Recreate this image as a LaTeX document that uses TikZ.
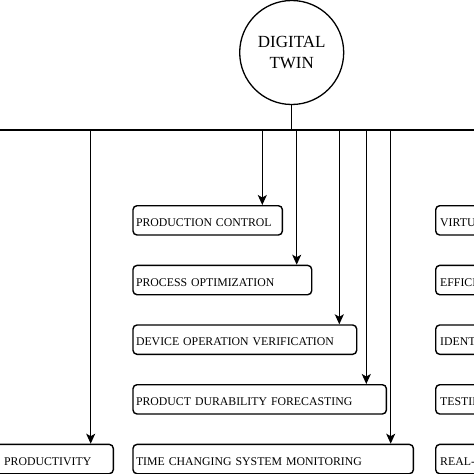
\documentclass[tikz,border=0pt]{standalone}
\usepackage{fontspec}
\setmainfont{Liberation Serif}
\usetikzlibrary{arrows.meta}
\begin{document}
\begin{tikzpicture}[x=1pt,y=-1pt,
  line width=1.2pt,
  arr/.style={-{Stealth[width=9pt,length=10pt,inset=2.5pt]}},
  box/.style={draw, line width=1.4pt, rounded corners=4pt, anchor=north west,
    minimum height=29.3pt, inner ysep=0pt, inner xsep=3pt,
    text height=12pt, text depth=0pt, align=left,
    font=\fontsize{11.8}{12}\selectfont},
  rbox/.style={box, inner xsep=4.5pt, text width=260pt}]
\useasboundingbox (0,0) rectangle (474,474);
\clip (0,0) rectangle (474,474);

\node[circle, draw, line width=1.3pt, minimum size=104pt, inner sep=0pt,
  align=center, font=\fontsize{17}{21.7}\selectfont] (dt) at (291.7,52.5) {DIGITAL\\TWIN};

% middle column
\node[box, text width=143.4pt] (pc)   at (132.3,205)   {PRODUCTION CONTROL};
\node[box, text width=172.7pt] (po)   at (132.3,264.7) {PROCESS OPTIMIZATION};
\node[box, text width=217.7pt] (dov)  at (132.3,324.3) {DEVICE OPERATION VERIFICATION};
\node[box, text width=247.4pt] (pdf)  at (132.3,384)   {PRODUCT DURABILITY FORECASTING};
\node[box, text width=274.4pt] (tcsm) at (132.3,443.7) {TIME CHANGING SYSTEM MONITORING};

% left box (cut off)
\node[box, anchor=north east, inner xsep=22pt, text width=220pt, align=right] (ip) at (114,443.7) {INCREASE PRODUCTIVITY};

% right column (cut off)
\node[rbox] (vc)  at (435,205)   {VIRTUAL COMMISSIONING};
\node[rbox] (ef)  at (435,264.7) {EFFICIENCY IMPROVEMENT};
\node[rbox] (id)  at (435,324.3) {IDENTIFICATION OF FAULTS};
\node[rbox] (ts)  at (435,384)   {TESTING};
\node[rbox] (rt)  at (435,443.7) {REAL-TIME MONITORING};

% bus
\coordinate (busL) at (-5,130);
\coordinate (busR) at (480,130);
\coordinate (j) at (291.7,130);
\draw (busL) -- (busR);
\draw (dt.south) -- (j);

\coordinate (a1) at (90.7,130);
\coordinate (a2) at (262.3,130);
\coordinate (a3) at (296.7,130);
\coordinate (a4) at (339.3,130);
\coordinate (a5) at (366.3,130);
\coordinate (a6) at (390.7,130);

\draw[arr] (a1) -- (a1 |- ip.north);
\draw[arr] (a2) -- (a2 |- pc.north);
\draw[arr] (a3) -- (a3 |- po.north);
\draw[arr] (a4) -- (a4 |- dov.north);
\draw[arr] (a5) -- (a5 |- pdf.north);
\draw[arr] (a6) -- (a6 |- tcsm.north);
\end{tikzpicture}
\end{document}
